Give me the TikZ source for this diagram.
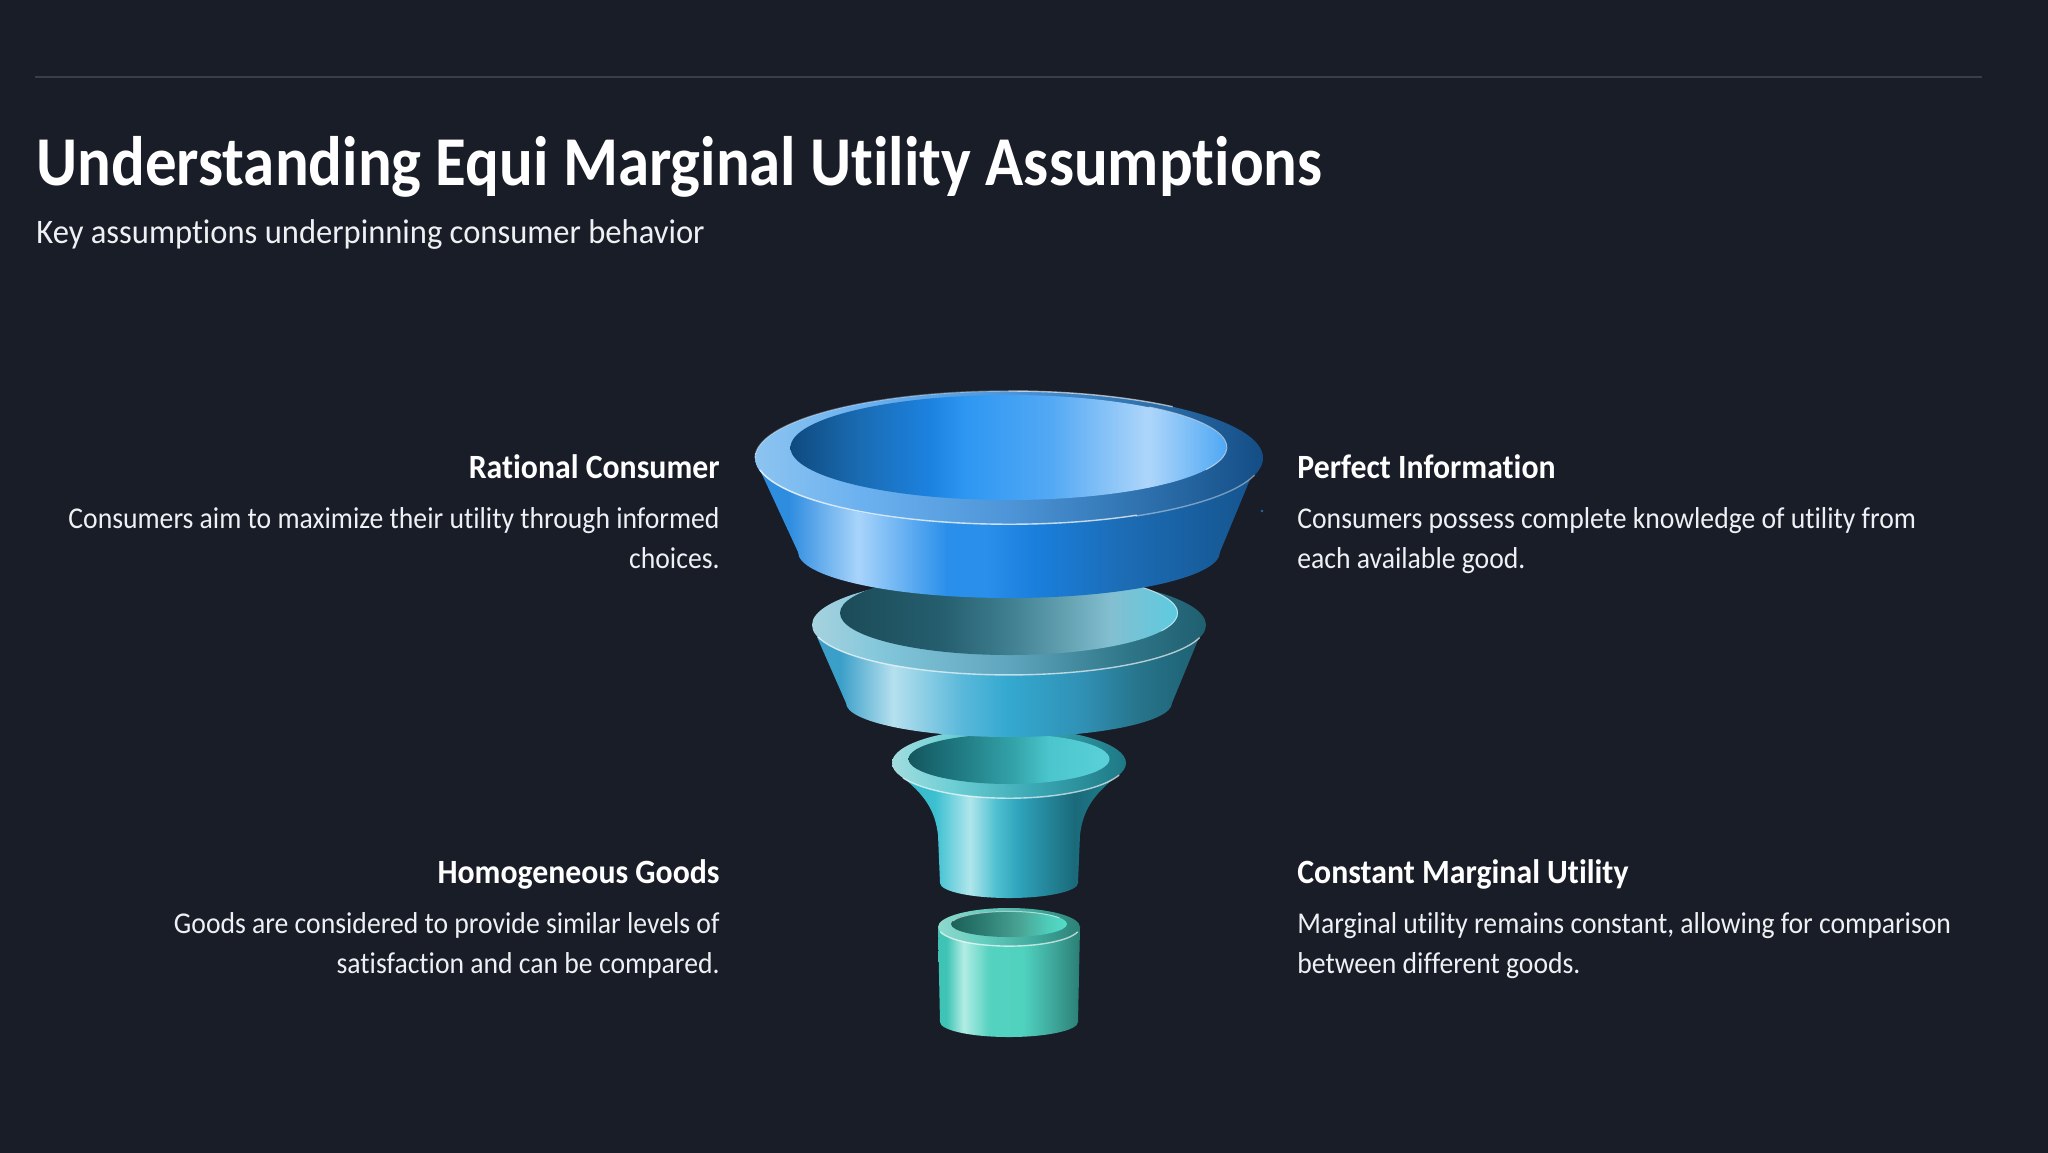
\documentclass[tikz,border=0pt]{standalone}
\usepackage{fontspec}
\setmainfont[Ligatures=NoCommon]{Carlito}
\newfontfamily\titlefont[Ligatures=NoCommon,FakeStretch=0.899]{Carlito}
\newfontfamily\subfont[Ligatures=NoCommon,FakeStretch=0.947]{Carlito}
\newfontfamily\headfont[Ligatures=NoCommon,FakeStretch=0.935]{Carlito}
\newfontfamily\bodyfont[Ligatures=NoCommon,FakeStretch=0.916]{Carlito}
\definecolor{bg}{HTML}{191D27}
\definecolor{rule}{HTML}{3A3E4A}
\definecolor{bodytext}{HTML}{EEF0F3}
% top funnel
\definecolor{ta0}{HTML}{2F8DE0}\definecolor{ta1}{HTML}{A8D4FB}\definecolor{ta2}{HTML}{2A8FEA}\definecolor{ta3}{HTML}{1A7FDC}\definecolor{ta4}{HTML}{1C6CB5}\definecolor{ta5}{HTML}{15558F}
\definecolor{tb0}{HTML}{8CC4F0}\definecolor{tb1}{HTML}{6DB2F0}\definecolor{tb2}{HTML}{4D95D8}\definecolor{tb3}{HTML}{2A6CA8}\definecolor{tb4}{HTML}{144D85}
\definecolor{tc0}{HTML}{0F4A7F}\definecolor{tc1}{HTML}{1A6CB3}\definecolor{tc2}{HTML}{1C82E0}\definecolor{tc3}{HTML}{2D97F2}\definecolor{tc4}{HTML}{54A9F4}\definecolor{tc5}{HTML}{AED6FA}\definecolor{tc6}{HTML}{4FA8F4}
\pgfdeclarehorizontalshading{topside}{100bp}{color(0bp)=(ta0);color(25bp)=(ta0);color(28bp)=(ta0);color(35bp)=(ta1);color(44bp)=(ta2);color(48bp)=(ta2);color(53bp)=(ta3);color(62bp)=(ta4);color(75bp)=(ta5);color(100bp)=(ta5)}
\pgfdeclarehorizontalshading{toprim}{100bp}{color(0bp)=(tb0);color(25bp)=(tb0);color(35bp)=(tb1);color(50bp)=(tb2);color(65bp)=(tb3);color(75bp)=(tb4);color(100bp)=(tb4)}
\pgfdeclarehorizontalshading{topin}{100bp}{color(0bp)=(tc0);color(25bp)=(tc0);color(33bp)=(tc1);color(41bp)=(tc2);color(45bp)=(tc3);color(55bp)=(tc4);color(66bp)=(tc5);color(75bp)=(tc6);color(100bp)=(tc6)}
% middle funnel
\definecolor{ma0}{HTML}{3A9FC9}\definecolor{ma1}{HTML}{B6E0EE}\definecolor{ma2}{HTML}{5AB8DA}\definecolor{ma3}{HTML}{34A9D0}\definecolor{ma4}{HTML}{3090B4}\definecolor{ma5}{HTML}{27758C}\definecolor{ma6}{HTML}{1E6173}
\definecolor{mb0}{HTML}{A6D2DE}\definecolor{mb1}{HTML}{85C8DC}\definecolor{mb2}{HTML}{5FA5BD}\definecolor{mb3}{HTML}{2F7689}\definecolor{mb4}{HTML}{1F5F70}
\definecolor{mc0}{HTML}{1C4B58}\definecolor{mc1}{HTML}{255E6E}\definecolor{mc2}{HTML}{3F7F90}\definecolor{mc3}{HTML}{6BA8B8}\definecolor{mc4}{HTML}{83BFD0}\definecolor{mc5}{HTML}{5CCBE0}
\pgfdeclarehorizontalshading{midside}{100bp}{color(0bp)=(ma0);color(25bp)=(ma0);color(28bp)=(ma0);color(35bp)=(ma1);color(44bp)=(ma2);color(50bp)=(ma3);color(60bp)=(ma4);color(67bp)=(ma5);color(75bp)=(ma6);color(100bp)=(ma6)}
\pgfdeclarehorizontalshading{midrim}{100bp}{color(0bp)=(mb0);color(25bp)=(mb0);color(33bp)=(mb1);color(50bp)=(mb2);color(65bp)=(mb3);color(75bp)=(mb4);color(100bp)=(mb4)}
\pgfdeclarehorizontalshading{midin}{100bp}{color(0bp)=(mc0);color(25bp)=(mc0);color(40bp)=(mc1);color(50bp)=(mc2);color(60bp)=(mc3);color(65bp)=(mc4);color(75bp)=(mc5);color(100bp)=(mc5)}
% neck
\definecolor{na0}{HTML}{34B4C8}\definecolor{na1}{HTML}{3CC0D0}\definecolor{na2}{HTML}{B0E6EC}\definecolor{na3}{HTML}{4FC0D0}\definecolor{na4}{HTML}{2FA4BC}\definecolor{na5}{HTML}{1A6A7A}\definecolor{na6}{HTML}{1F7F8C}
\definecolor{nb0}{HTML}{A2DCDF}\definecolor{nb1}{HTML}{70D0D6}\definecolor{nb2}{HTML}{3BA9B5}\definecolor{nb3}{HTML}{1D7884}
\definecolor{nc0}{HTML}{14565F}\definecolor{nc1}{HTML}{1F7880}\definecolor{nc2}{HTML}{35A6AC}\definecolor{nc3}{HTML}{4BC6CC}\definecolor{nc4}{HTML}{5BD0D8}
\pgfdeclarehorizontalshading{neckside}{100bp}{color(0bp)=(na0);color(25bp)=(na0);color(33bp)=(na1);color(41bp)=(na2);color(47bp)=(na3);color(52bp)=(na4);color(65bp)=(na5);color(75bp)=(na6);color(100bp)=(na6)}
\pgfdeclarehorizontalshading{neckrim}{100bp}{color(0bp)=(nb0);color(25bp)=(nb0);color(37bp)=(nb1);color(55bp)=(nb2);color(75bp)=(nb3);color(100bp)=(nb3)}
\pgfdeclarehorizontalshading{neckin}{100bp}{color(0bp)=(nc0);color(25bp)=(nc0);color(37bp)=(nc1);color(52bp)=(nc2);color(60bp)=(nc3);color(75bp)=(nc4);color(100bp)=(nc4)}
% cylinder
\definecolor{ca0}{HTML}{3FC3B5}\definecolor{ca1}{HTML}{B2EDE4}\definecolor{ca2}{HTML}{55D2C0}\definecolor{ca3}{HTML}{4FD2BF}\definecolor{ca4}{HTML}{3FA99C}\definecolor{ca5}{HTML}{2B7F76}
\definecolor{cb0}{HTML}{8FD8CD}\definecolor{cb1}{HTML}{66CFC0}\definecolor{cb2}{HTML}{3FA79B}\definecolor{cb3}{HTML}{2C8077}
\definecolor{cc0}{HTML}{1C6158}\definecolor{cc1}{HTML}{2E7F74}\definecolor{cc2}{HTML}{4AA595}\definecolor{cc3}{HTML}{4FCDBB}\definecolor{cc4}{HTML}{55DCC8}
\pgfdeclarehorizontalshading{cylside}{100bp}{color(0bp)=(ca0);color(25bp)=(ca0);color(28bp)=(ca0);color(34bp)=(ca1);color(43bp)=(ca2);color(55bp)=(ca3);color(65bp)=(ca4);color(75bp)=(ca5);color(100bp)=(ca5)}
\pgfdeclarehorizontalshading{cylrim}{100bp}{color(0bp)=(cb0);color(25bp)=(cb0);color(40bp)=(cb1);color(60bp)=(cb2);color(75bp)=(cb3);color(100bp)=(cb3)}
\pgfdeclarehorizontalshading{cylin}{100bp}{color(0bp)=(cc0);color(25bp)=(cc0);color(40bp)=(cc1);color(55bp)=(cc2);color(67bp)=(cc3);color(75bp)=(cc4);color(100bp)=(cc4)}
\newcommand\Arc[4]{arc[start angle=#1,end angle=#2,x radius=#3*0.5pt,y radius=#4*0.5pt]}
\newcommand\Ell[2]{ellipse[x radius=#1*0.5pt,y radius=#2*0.5pt]}
\tikzset{
  titletext/.style={anchor=base west,inner sep=0pt,text=white,font=\titlefont\fontsize{35}{38}\selectfont\bfseries},
  subtext/.style={anchor=base west,inner sep=0pt,text=bodytext,font=\subfont\fontsize{17.2}{20}\selectfont},
  headtext/.style={inner sep=0pt,text=white,font=\headfont\fontsize{17}{20}\selectfont\bfseries},
  bodyblock/.style={inner sep=0pt,text=bodytext,font=\bodyfont\fontsize{15.1}{20}\selectfont},
  glint/.style={draw=white,line width=0.7pt,line cap=round},
}
\begin{document}
\begin{tikzpicture}[x=0.5pt,y=-0.5pt]
\useasboundingbox (0,0) rectangle (2048,1152);
\fill[bg] (-10,-10) rectangle (2058,1162);
\draw[rule,line width=1pt] (35,77) -- (1982,77);
\node[titletext] (title) at (36,185) {Understanding Equi Marginal Utility Assumptions};
\node[subtext] (subtitle) at (36,243) {Key assumptions underpinning consumer behavior};
% cylinder
\shade[shading=cylside] (940,1022) \Arc{180}{360}{69}{15} -- (1080,927) -- (938,927) -- cycle;
\shade[shading=cylrim] (1009,927) \Ell{71}{19};
\shade[shading=cylin] (1009,924) \Ell{58}{13};
\draw[glint,opacity=.65] (940.4,932) \Arc{195}{345}{71}{19};
\draw[glint,opacity=.55,line width=.5pt] (953,921) \Arc{165}{30}{58}{13};
% neck
\shade[shading=neckside] (900,775) .. controls (925,795) and (935,810) .. (938,835) -- (940,883) \Arc{180}{360}{69}{15} -- (1080,835) .. controls (1083,810) and (1093,795) .. (1118,775) -- cycle;
\shade[shading=neckrim] (1009,763) \Ell{117}{35};
\shade[shading=neckin] (1009,759) \Ell{100.5}{25};
\draw[glint,opacity=.65] (903,778) \Arc{205}{340}{117}{35};
% middle
\shade[shading=midside] (817,637) -- (846,703) \Arc{180}{360}{163}{34} -- (1198,640) -- cycle;
\shade[shading=midrim] (1009,625) \Ell{197}{50};
\shade[shading=midin] (1009,613) \Ell{169}{42};
\draw[glint,opacity=.65] (818,637) \Arc{194}{345}{197}{50};
\draw[glint,opacity=.55,line width=.5pt] (1138,586) \Arc{40}{-25}{169}{42};
% top
\shade[shading=topside] (760,470) -- (798,552) \Arc{180}{360}{211}{46} -- (1251,477) -- cycle;
\shade[shading=toprim] (1009,458) \Ell{254}{67};
\shade[shading=topin] (1008.5,447.5) \Ell{218}{52.5};
\draw[glint,opacity=.7] (760,470) \Arc{191}{300}{254}{67};
\draw[glint,opacity=.4] (1136,516) \Arc{300}{345}{254}{67};
\draw[glint,opacity=.3] (755,458) \Arc{180}{90}{254}{67};
\draw[glint,opacity=.6] (1009,391) \Arc{90}{50}{254}{67};
\draw[glint,opacity=.55,line width=.5pt] (1149,407) \Arc{50}{-25}{218}{52.5};
\fill[fill=ta4] (1262,511) circle[radius=0.7pt];
% labels
\node[headtext,anchor=base east] (h1) at (720,478) {Rational Consumer};
\node[bodyblock,anchor=north east,align=right] (b1) at (720,507) {Consumers aim to maximize their utility through informed\\choices.};
\node[headtext,anchor=base west] (h2) at (1297,478) {Perfect Information};
\node[bodyblock,anchor=north west,align=left] (b2) at (1297,507) {Consumers possess complete knowledge of utility from\\each available good.};
\node[headtext,anchor=base east] (h3) at (720,883) {Homogeneous Goods};
\node[bodyblock,anchor=north east,align=right] (b3) at (720,912) {Goods are considered to provide similar levels of\\satisfaction and can be compared.};
\node[headtext,anchor=base west] (h4) at (1297,883) {Constant Marginal Utility};
\node[bodyblock,anchor=north west,align=left] (b4) at (1297,912) {Marginal utility remains constant, allowing for comparison\\between different goods.};
\end{tikzpicture}
\end{document}
